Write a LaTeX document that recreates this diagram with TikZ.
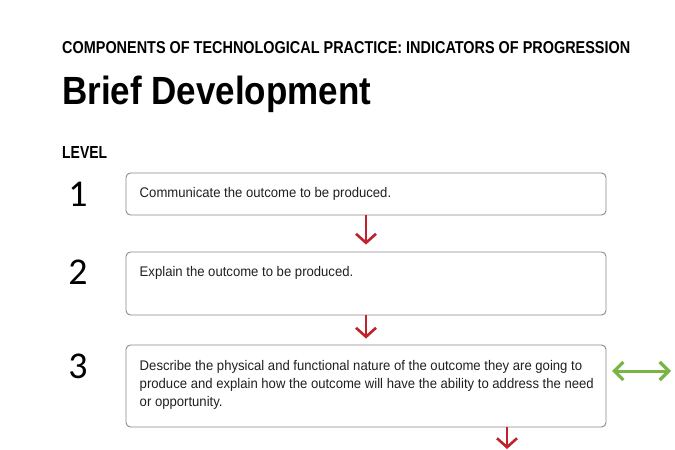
\documentclass[tikz,border=0pt]{standalone}
\usepackage{fontspec}
\usepackage{graphicx}
\usetikzlibrary{arrows.meta,calc}
\setmainfont{Liberation Sans}
\newfontfamily\narrowf[FakeStretch=0.94]{Liberation Sans}
\newfontfamily\numf{Carlito}
\definecolor{txtgray}{HTML}{231F20}
\definecolor{boxgray}{HTML}{8A8A8A}
\definecolor{arrred}{HTML}{C0212B}
\definecolor{arrgreen}{HTML}{79B446}
\tikzset{
  boxnode/.style={draw=boxgray, line width=0.9bp, rounded corners=4.5bp, minimum width=480bp, inner sep=0pt},
  boxtext/.style={anchor=base west, inner sep=0pt, align=left, text=txtgray, font=\narrowf\fontsize{14}{18}\selectfont},
  levelnum/.style={anchor=base, inner sep=0pt, font=\numf\fontsize{38}{38}\selectfont},
  titletext/.style={anchor=base west, inner sep=0pt},
  redarrow/.style={draw=arrred, line width=2.4bp, -{Straight Barb[length=9bp,width=20bp,line width=2.6bp]}},
  greenarrow/.style={draw=arrgreen, line width=3bp, {Straight Barb[length=9bp,width=18bp,line width=3.2bp]}-{Straight Barb[length=9bp,width=18bp,line width=3.2bp]}}
}
\begin{document}
\begin{tikzpicture}[x=1bp,y=-1bp]
\useasboundingbox[fill=white] (0,0) rectangle (675,450);
% headings
\node[titletext] (hdr) at (62,53.3) {\resizebox{568bp}{12bp}{\bfseries COMPONENTS OF TECHNOLOGICAL PRACTICE: INDICATORS OF PROGRESSION}};
\node[titletext] (ttl) at (62,105) {\resizebox{309bp}{28.5bp}{\bfseries Brief Development}};
\node[titletext] (lvl) at (62,159) {\resizebox{45bp}{12bp}{\bfseries LEVEL}};
% level numbers
\node[levelnum] (n1) at (78,207) {1};
\node[levelnum] (n2) at (78,285) {2};
\node[levelnum] (n3) at (78,378) {3};
% boxes
\node[boxnode, minimum height=42bp] (b1) at (366,194) {};
\node[boxnode, minimum height=63bp] (b2) at (366,283.5) {};
\node[boxnode, minimum height=82bp] (b3) at (366,386) {};
% box texts
\node[boxtext] (t1) at ($(b1.north west)+(14,25)$) {Communicate the outcome to be produced.};
\node[boxtext] (t2) at ($(b2.north west)+(14,25)$) {Explain the outcome to be produced.};
\node[boxtext] (t3) at ($(b3.north west)+(14,61.5)$) {Describe the physical and functional nature of the outcome they are going to\\produce and explain how the outcome will have the ability to address the need\\or opportunity.};
% connectors
\coordinate (a1) at ($(b2.north)+(0,-7)$);
\coordinate (a2) at ($(b3.north)+(0,-6)$);
\coordinate (s3) at (507,427);
\coordinate (a3) at (507,449);
\draw[redarrow] (b1.south) -- (a1);
\draw[redarrow] (b2.south) -- (a2);
\draw[redarrow] (s3) -- (a3);
\coordinate (g1) at (612,371);
\coordinate (g2) at (671,371);
\draw[greenarrow] (g1) -- (g2);
\end{tikzpicture}
\end{document}
